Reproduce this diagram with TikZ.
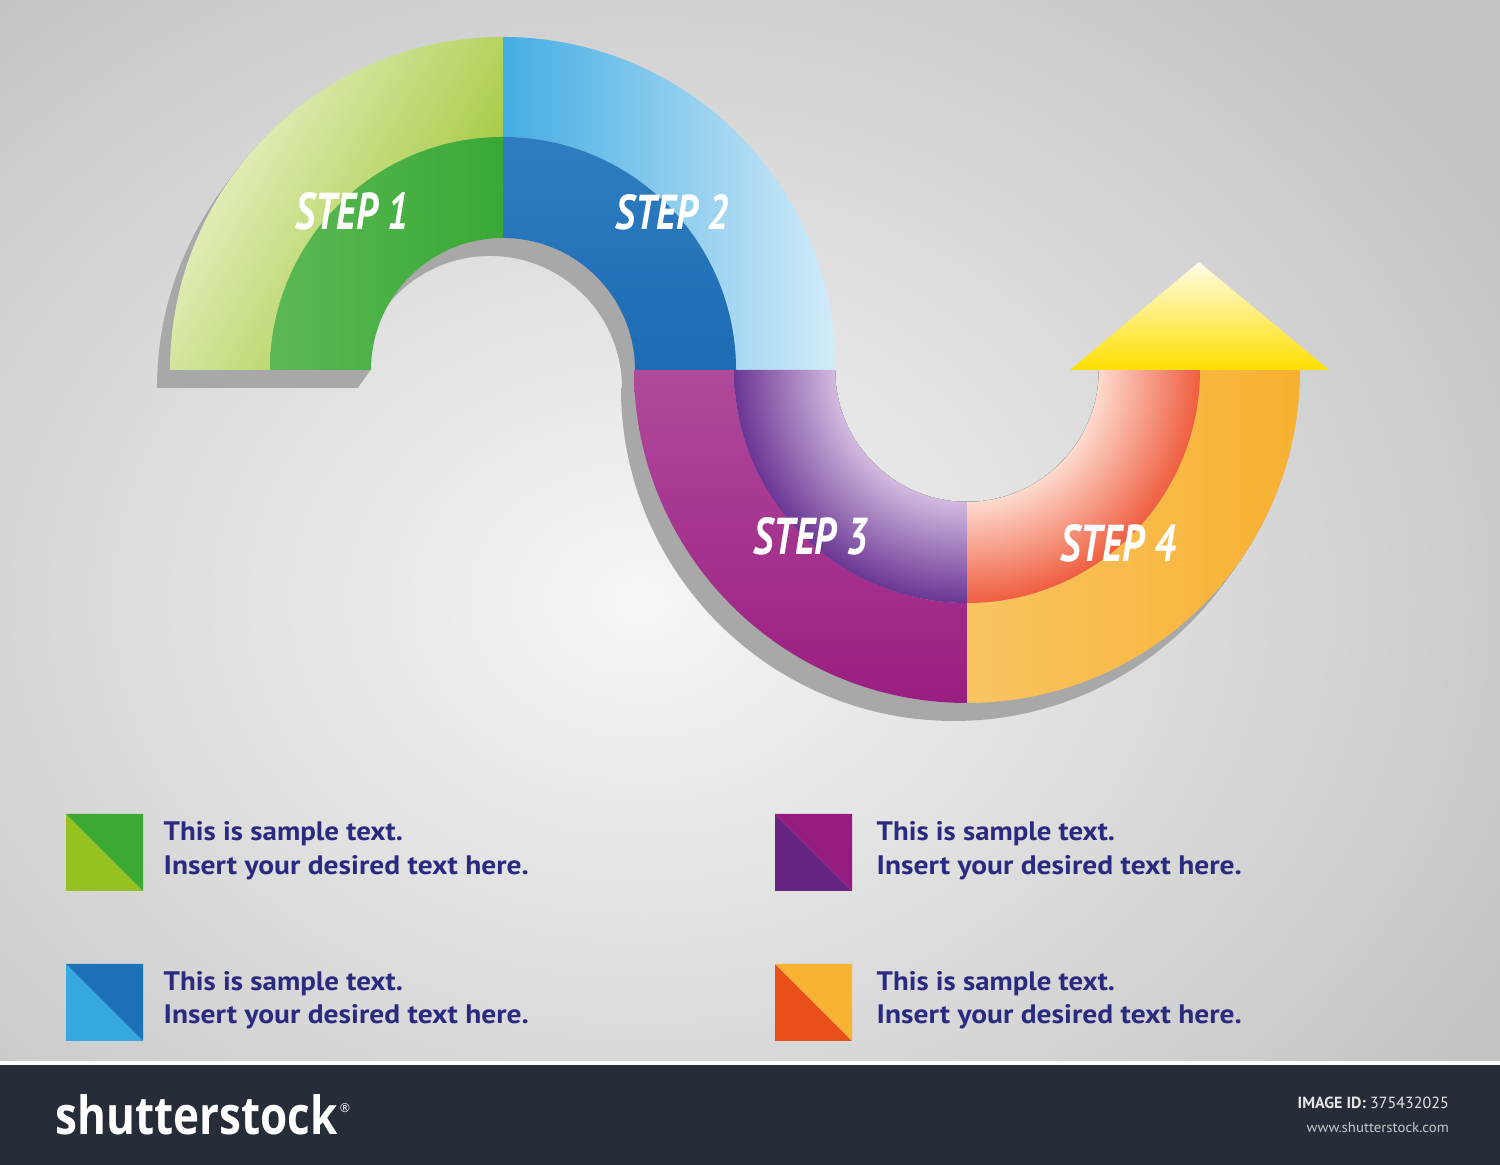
\documentclass[tikz,border=0pt]{standalone}
\usepackage{fontspec}
\usepackage{graphicx}
\setmainfont{PT Sans}
\newfontfamily\logofont{Open Sans}
\definecolor{bgin}{HTML}{F6F6F6}
\definecolor{bgout}{HTML}{C4C4C4}
\definecolor{footerc}{HTML}{272D38}
\definecolor{shadowc}{HTML}{A8A8A8}
\definecolor{gOutA}{HTML}{EEF5D2}
\definecolor{gOutB}{HTML}{9AC42C}
\definecolor{gInA}{HTML}{5CB855}
\definecolor{gInB}{HTML}{38A935}
\definecolor{bOutA}{HTML}{44ADE3}
\definecolor{bOutB}{HTML}{D2EBF9}
\definecolor{bInA}{HTML}{2F7DC0}
\definecolor{bInB}{HTML}{1C6BB4}
\definecolor{pOutA}{HTML}{B04A9B}
\definecolor{pOutB}{HTML}{981A80}
\definecolor{pOutC}{HTML}{9A1E82}
\definecolor{lavPale}{HTML}{D2B9DF}
\definecolor{lavDark}{HTML}{6A3694}
\definecolor{salPale}{HTML}{FDD9CC}
\definecolor{salDark}{HTML}{EF5E40}
\definecolor{oOutA}{HTML}{F9C462}
\definecolor{oOutB}{HTML}{F8B131}
\definecolor{yA}{HTML}{FFFBE6}
\definecolor{yB}{HTML}{FFEA4A}
\definecolor{yC}{HTML}{FFDF00}
\definecolor{txtblue}{HTML}{2A2A80}
\definecolor{sqOneA}{HTML}{3AAA35}
\definecolor{sqOneB}{HTML}{95C11F}
\definecolor{sqTwoA}{HTML}{1D71B8}
\definecolor{sqTwoB}{HTML}{36A9E1}
\definecolor{sqThreeA}{HTML}{951B81}
\definecolor{sqThreeB}{HTML}{662483}
\definecolor{sqFourA}{HTML}{F9B233}
\definecolor{sqFourB}{HTML}{E94E1B}
\definecolor{idtext}{HTML}{E6E6E6}
\definecolor{wwwtext}{HTML}{C4C8CC}
\pgfdeclareradialshading{lavshade}{\pgfpoint{0bp}{0bp}}{color(0bp)=(lavPale); color(14.2bp)=(lavPale); color(25bp)=(lavDark); color(50bp)=(lavDark)}
\pgfdeclareradialshading{salshade}{\pgfpoint{0bp}{0bp}}{color(0bp)=(salPale); color(14.2bp)=(salPale); color(25bp)=(salDark); color(50bp)=(salDark)}
\newcommand\bandpath[4]{(#1:#3) arc[start angle=#1,end angle=#2,radius=#3] -- (#2:#4) arc[start angle=#2,end angle=#1,radius=#4] -- cycle}
\tikzset{
  steplabel/.style={anchor=base west, inner sep=0pt, text=white, font=\bfseries\itshape},
  lgtext/.style={anchor=base west, inner sep=0pt, text=txtblue, font=\bfseries}
}
\begin{document}
\begin{tikzpicture}[x=0.01cm,y=0.01cm]
\useasboundingbox (0,0) rectangle (1500,1165);
% background
\begin{scope}
  \clip (0,104) rectangle (1500,1165);
  \shade[inner color=bgin, outer color=bgout] (-360,-235) rectangle (1640,1365);
\end{scope}
\fill[white] (0,100) rectangle (1500,104);
\fill[footerc] (0,0) rectangle (1500,100);
% shadow (extruded)
\foreach \t in {0.05,0.1,...,1.01}{
  \fill[shadowc] ({836-13*\t},{795-18*\t}) arc[start angle=0,end angle=180,radius=333] -- ({371-13*\t},{795-18*\t}) arc[start angle=180,end angle=0,radius=132] -- cycle;
  \fill[shadowc] ({634-13*\t},{795-18*\t}) arc[start angle=180,end angle=360,radius=333] -- (1099,795) arc[start angle=360,end angle=180,radius=132] -- cycle;
}
% first arc
\begin{scope}[shift={(503,795)}]
  \shade[top color=gOutA, bottom color=gOutB, shading angle=60] \bandpath{90}{180}{333}{233};
  \shade[left color=gInA, right color=gInB] \bandpath{90}{180}{233}{132};
  \shade[left color=bOutA, right color=bOutB] \bandpath{0}{90}{333}{233};
  \shade[top color=bInA, bottom color=bInB] \bandpath{0}{90}{233}{132};
\end{scope}
% second arc
\begin{scope}[shift={(967,795)}]
  \shade[top color=pOutA, middle color=pOutB, bottom color=pOutC] \bandpath{180}{270}{333}{233};
  \begin{scope}
    \clip \bandpath{180}{270}{233}{132};
    \shade[shading=lavshade] (0,0) circle[radius=233];
  \end{scope}
  \shade[left color=oOutA, middle color=oOutB, right color=oOutB] \bandpath{270}{360}{333}{233};
  \begin{scope}
    \clip \bandpath{270}{360}{233}{132};
    \shade[shading=salshade] (0,0) circle[radius=233];
  \end{scope}
\end{scope}
% arrow head
\shade[top color=yA, middle color=yB, bottom color=yC] (1070,795) -- (1329,795) -- (1199,903) -- cycle;
% step labels
\node[steplabel] (s1) at (295,935) {\resizebox{1.13cm}{0.37cm}{STEP 1}};
\node[steplabel] (s2) at (615,935) {\resizebox{1.13cm}{0.35cm}{STEP 2}};
\node[steplabel] (s3) at (753,610) {\resizebox{1.14cm}{0.37cm}{STEP 3}};
\node[steplabel] (s4) at (1060,603) {\resizebox{1.15cm}{0.37cm}{STEP 4}};
% legend squares
\fill[sqOneB] (66,351) -- (66,274) -- (143,274) -- cycle;
\fill[sqOneA] (66,351) -- (143,351) -- (143,274) -- cycle;
\fill[sqTwoB] (66,201) -- (66,124) -- (143,124) -- cycle;
\fill[sqTwoA] (66,201) -- (143,201) -- (143,124) -- cycle;
\fill[sqThreeB] (775,351) -- (775,274) -- (852,274) -- cycle;
\fill[sqThreeA] (775,351) -- (852,351) -- (852,274) -- cycle;
\fill[sqFourB] (775,201) -- (775,124) -- (852,124) -- cycle;
\fill[sqFourA] (775,201) -- (852,201) -- (852,124) -- cycle;
% legend texts
\node[lgtext] (l1a) at (163,324) {\resizebox{2.39cm}{0.19cm}{This is sample text.}};
\node[lgtext] (l1b) at (163,290) {\resizebox{3.65cm}{0.19cm}{Insert your desired text here.}};
\node[lgtext] (l2a) at (163,174) {\resizebox{2.39cm}{0.19cm}{This is sample text.}};
\node[lgtext] (l2b) at (163,141) {\resizebox{3.65cm}{0.19cm}{Insert your desired text here.}};
\node[lgtext] (l3a) at (876,324) {\resizebox{2.38cm}{0.19cm}{This is sample text.}};
\node[lgtext] (l3b) at (876,290) {\resizebox{3.65cm}{0.19cm}{Insert your desired text here.}};
\node[lgtext] (l4a) at (876,174) {\resizebox{2.38cm}{0.19cm}{This is sample text.}};
\node[lgtext] (l4b) at (876,141) {\resizebox{3.65cm}{0.19cm}{Insert your desired text here.}};
% footer
\node[anchor=base west, inner sep=0pt, text=white] (logo) at (55,30) {\resizebox{2.82cm}{0.40cm}{\logofont\bfseries shutterstock}};
\node[inner sep=0pt, text=white] (reg) at (345,57) {\logofont\fontsize{3.5}{4}\selectfont ®};
\node[anchor=base west, inner sep=0pt, text=idtext] (imgid) at (1297,56) {\resizebox{1.51cm}{0.115cm}{\bfseries IMAGE ID:\mdseries\ 375432025}};
\node[anchor=base west, inner sep=0pt, text=wwwtext] (www) at (1306,32) {\resizebox{1.42cm}{0.10cm}{www.shutterstock.com}};
\end{tikzpicture}
\end{document}
